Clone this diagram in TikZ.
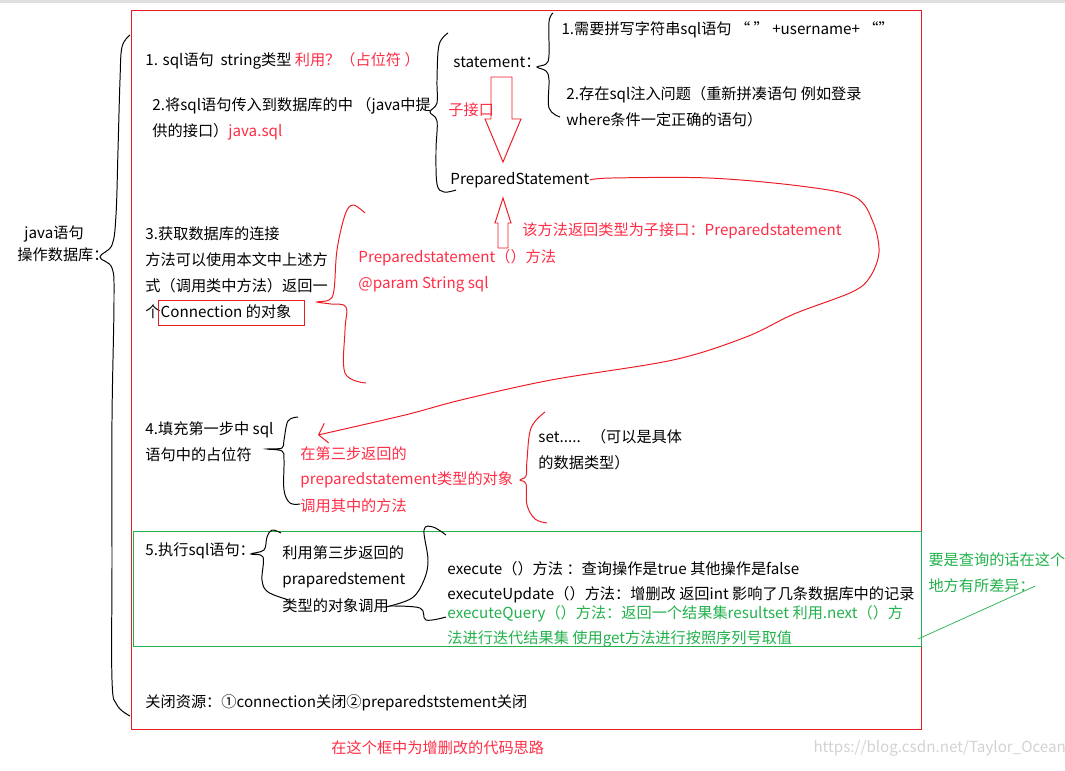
\documentclass[tikz,border=0pt]{standalone}
\usepackage{fontspec}
\setmainfont{Noto Sans CJK SC}
\usetikzlibrary{arrows.meta}
\definecolor{boxred}{RGB}{237,28,36}
\definecolor{txtred}{RGB}{255,45,70}
\definecolor{pgreen}{RGB}{34,177,76}
\begin{document}
\begin{tikzpicture}[x=0.025cm,y=-0.025cm,line width=0.7pt]
            \tikzstyle{txt}=[anchor=west,inner sep=0pt,font=\fontsize{10.8pt}{13pt}\selectfont]
            \tikzstyle{rtxt}=[txt,text=txtred]
            \tikzstyle{gtxt}=[txt,text=pgreen]
            \tikzstyle{brace}=[black]
            \tikzstyle{rbrace}=[boxred]
            \tikzstyle{arrow}=[boxred,-{Straight Barb[length=2mm,width=5mm]}]
            \useasboundingbox (0,0) rectangle (1065,770);
            \fill[gray!25] (0,0) rectangle (1065,3);
            % frames
            \draw[boxred] (131,10) rectangle (921,729);
            \draw[pgreen] (133,531) rectangle (921,646);
            % left side
            \node[txt] (java1) at (24,234) {java语句};
            \node[txt] (java2) at (17,255) {操作数据库：};
            \draw[brace] plot[smooth,tension=0.6] coordinates {(130,35) (122,47) (120,80) (118,150) (116,215) (112,245) (100,257) (112,268) (114,300) (112,420) (112,560) (112,680) (117,705) (130,716)};
            % step 1 and 2
            \node[txt] (s1) at (145,61) {1. sql语句\ \ string类型 \textcolor{txtred}{利用？（占位符 ）}};
            \node[txt] (s2a) at (152,106) {2.将sql语句传入到数据库的中 （java中提};
            \node[txt] (s2b) at (152,132) {供的接口）\textcolor{txtred}{java.sql}};
            \draw[brace] plot[smooth,tension=0.6] coordinates {(448,33) (439,45) (437,80) (437,103) (430,112) (437,121) (436,150) (437,184) (444,192) (456,190)};
            \node[txt] (st) at (453,62) {statement：};
            \draw[brace] plot[smooth,tension=0.6] coordinates {(553,13) (549,22) (549,55) (546,64) (537,67) (546,71) (549,80) (549,108) (560,117)};
            \node[txt] (st1) at (561,30) {1.需要拼写字符串sql语句 “ ” +username+ “”};
            \node[txt] (st2a) at (566,95) {2.存在sql注入问题（重新拼凑语句 例如登录};
            \node[txt] (st2b) at (566,120) {where条件一定正确的语句）};
            \node[rtxt] (sub) at (448,110) {子接口};
            \draw[boxred] (491,77) -- (512,77) -- (512,119) -- (521,119) -- (503,162) -- (485,119) -- (491,119) -- cycle;
            \node[txt] (ps) at (450,180) {PreparedStatement};
            % step 3
            \draw[boxred] (498,248) -- (508,248) -- (508,223) -- (511,223) -- (503,198) -- (495,223) -- (498,223) -- cycle;
            \node[rtxt] (note) at (522,231) {该方法返回类型为子接口：Preparedstatement};
            \node[txt] (t3a) at (145,234) {3.获取数据库的连接};
            \node[txt] (t3b) at (145,260) {方法可以使用本文中上述方};
            \node[txt] (t3c) at (145,286) {式（调用类中方法）返回一};
            \node[txt] (t3d) at (145,312) {个Connection 的对象};
            \draw[boxred] (158,300) rectangle (304,325);
            \draw[rbrace] plot[smooth,tension=0.6] coordinates {(365,213) (353,205) (345,215) (337,250) (334,290) (329,300) (317,302) (331,304) (346,307) (345,330) (345,373) (366,383)};
            \node[rtxt] (pm1) at (358,258) {Preparedstatement（）方法};
            \node[rtxt] (pm2) at (358,284) {@param String sql};
            % step 4
            \coordinate (hook) at (318,435);
            \draw[arrow] plot[smooth,tension=0.55] coordinates {(ps.east) (612,178) (709,178) (800,186) (855,197) (873,222) (879,252) (870,277) (852,292) (794,314) (746,337) (673,360) (551,380) (461,400) (405,415) (hook)};
            \node[txt] (t4a) at (145,430) {4.填充第一步中 sql};
            \node[txt] (t4b) at (145,455) {语句中的占位符};
            \draw[brace] plot[smooth,tension=0.6] coordinates {(298,417) (288,421) (284,440) (282,448) (267,449) (282,451) (284,460) (284,490) (290,503) (300,504)};
            \node[rtxt] (r4a) at (300,454) {在第三步返回的};
            \node[rtxt] (r4b) at (300,480) {preparedstatement类型的对象};
            \node[rtxt] (r4c) at (300,506) {调用其中的方法};
            \draw[rbrace] plot[smooth,tension=0.6] coordinates {(545,412) (531,428) (527,460) (526,476) (520,480) (526,484) (527,505) (535,519) (547,523)};
            \node[txt] (set1) at (538,437) {set.....\ \ \ （可以是具体};
            \node[txt] (set2) at (538,463) {的数据类型）};
            % step 5
            \node[txt] (t5) at (145,551) {5.执行sql语句：};
            \draw[brace] plot[smooth,tension=0.6] coordinates {(281,533) (272,530) (267,537) (264,550) (251,554) (263,557) (262,580) (268,592) (289,600)};
            \node[txt] (u1) at (282,553) {利用第三步返回的};
            \node[txt] (u2) at (282,580) {praparedstement};
            \node[txt] (u3) at (282,606) {类型的对象调用};
            \draw[brace] plot[smooth,tension=0.6] coordinates {(446,535) (433,527) (424,530) (428,560) (424,580) (412,598) (386,607)};
            \draw[brace] plot[smooth,tension=0.6] coordinates {(u3.east) (420,608) (426,620) (446,617)};
            \node[txt] (e1) at (447,569) {execute（）方法 ：查询操作是true 其他操作是false};
            \node[txt] (e2) at (447,595) {executeUpdate（）方法：增删改 返回int 影响了几条数据库中的记录};
            \node[gtxt] (e3) at (447,614) {executeQuery（）方法：返回一个结果集resultset 利用.next（）方};
            \node[gtxt] (e4) at (447,639) {法进行迭代结果集 使用get方法进行按照序列号取值};
            \node[gtxt] (q1) at (928,560) {要是查询的话在这个};
            \node[gtxt] (q2) at (928,586) {地方有所差异：};
            \coordinate (gend) at (918,639);
            \draw[pgreen,line width=0.5pt] (q2.east) -- (gend);
            % close
            \node[txt] (cl) at (145,703) {关闭资源：①connection关闭②preparedststement关闭};
            \node[rtxt] (cap) at (331,748) {在这个框中为增删改的代码思路};
            \node[txt,text=gray!35] (wm) at (813,748) {https://blog.csdn.net/Taylor\_Ocean};
\end{tikzpicture}
\end{document}
